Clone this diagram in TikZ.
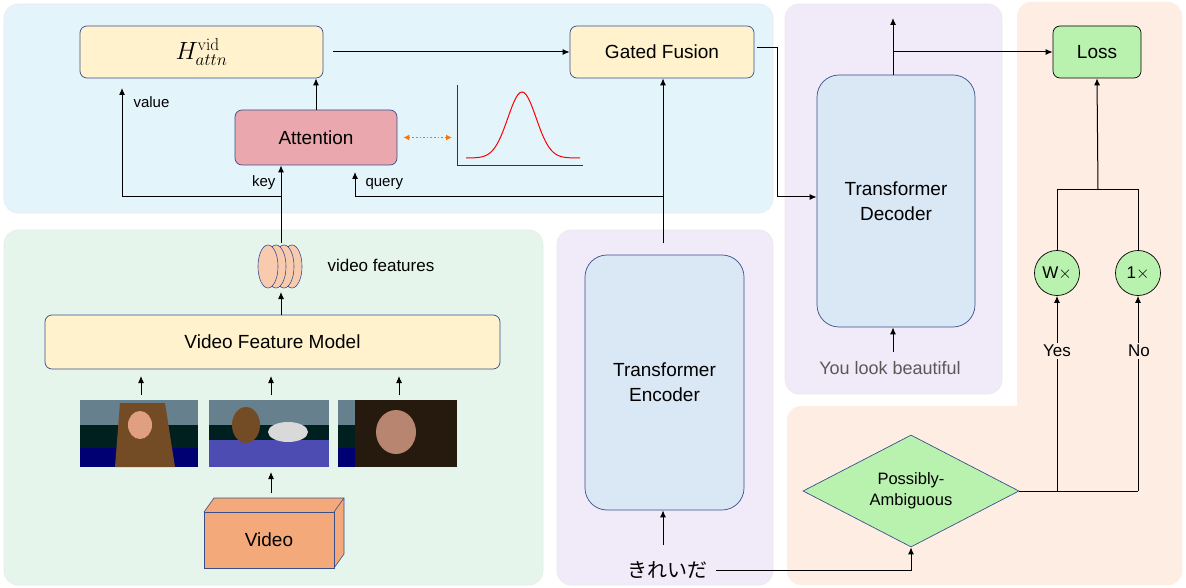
\documentclass[tikz,border=0pt]{standalone}
\usepackage[no-math]{fontspec}
\setmainfont{Liberation Sans}
\newfontfamily\cjk{Noto Sans CJK JP}
\usetikzlibrary{shapes.geometric,arrows.meta}
\definecolor{pblue}{HTML}{E3F4FB}
\definecolor{pgreen}{HTML}{E6F5EC}
\definecolor{ppurp}{HTML}{F1EAF8}
\definecolor{porange}{HTML}{FEEDE3}
\definecolor{byellow}{HTML}{FFF2CC}
\definecolor{bpink}{HTML}{EAA8AE}
\definecolor{bblue}{HTML}{DAE8F5}
\definecolor{bgreen}{HTML}{B9F2AE}
\definecolor{edge}{HTML}{3A4F8A}
\definecolor{vorange}{HTML}{F4A97A}
\begin{document}
\begin{tikzpicture}[x=1pt,y=-1pt,
  panel/.style={rounded corners=14pt,draw=black!8,line width=0.6pt},
  box/.style={draw=edge,rounded corners=7pt,line width=0.7pt,fill=byellow},
  arr/.style={-{Latex[length=7pt,width=6pt]},line width=1pt},
  ln/.style={line width=1pt},
  big/.style={font=\fontsize{19}{23}\selectfont},
  lbl/.style={font=\fontsize{15}{17}\selectfont}]
\useasboundingbox (0,0) rectangle (1186,588);
% panels
\fill[white] (0,0) rectangle (1186,588);
\draw[panel,fill=pblue] (4,4) rectangle (773,213);
\draw[panel,fill=pgreen] (4,230) rectangle (543,585);
\draw[panel,fill=ppurp] (557,230) rectangle (773,585);
\draw[panel,fill=ppurp] (785,4) rectangle (1002,394);
\fill[porange,rounded corners=14pt] (1017,2) rectangle (1182,585);
\fill[porange,rounded corners=14pt] (787,406) rectangle (1182,585);
\fill[porange] (1000,406) rectangle (1030,440);
% nodes
\node[box,minimum width=243pt,minimum height=52pt] (H) at (201.5,52) {\fontsize{25}{30}\selectfont$H^{\mathrm{vid}}_{attn}$};
\node[box,minimum width=184pt,minimum height=52pt,big] (G) at (662,52) {Gated Fusion};
\node[box,fill=bpink,minimum width=162pt,minimum height=55pt,big] (A) at (316,137.5) {Attention};
\node[box,minimum width=455pt,minimum height=54pt,big] (V) at (272.5,342) {Video Feature Model};
\node[draw=edge,fill=bblue,rounded corners=22pt,line width=0.7pt,minimum width=159pt,minimum height=255pt,align=center,font=\fontsize{19}{25}\selectfont] (E) at (664.5,382.5) {Transformer\\Encoder};
\node[draw=edge,fill=bblue,rounded corners=22pt,line width=0.7pt,minimum width=158pt,minimum height=252pt,align=center,font=\fontsize{19}{25}\selectfont] (D) at (896,201) {Transformer\\Decoder};
\node[draw=black,fill=bgreen,rounded corners=7pt,line width=0.7pt,minimum width=88pt,minimum height=52pt,big] (L) at (1097,52) {Loss};
\node[circle,draw=black,fill=bgreen,line width=0.7pt,minimum size=45pt,inner sep=0pt,font=\fontsize{17}{19}\selectfont] (W) at (1057,273) {W$\times$};
\node[circle,draw=black,fill=bgreen,line width=0.7pt,minimum size=45pt,inner sep=0pt,font=\fontsize{17}{19}\selectfont] (O) at (1138,273) {1$\times$};
\node[diamond,aspect=1.93,draw=edge,fill=bgreen,line width=0.7pt,inner sep=0pt,minimum width=216pt,minimum height=112pt,align=center,font=\fontsize{16.5}{21}\selectfont] (P) at (911,491) {Possibly-\\Ambiguous};
\node[font=\fontsize{20}{24}\selectfont\cjk,inner sep=1pt] (K) at (667,570) {きれいだ};
\node[font=\fontsize{18}{22}\selectfont,text=black!65,inner sep=1pt] (Y) at (890,368) {You look beautiful};
% video features
\foreach \dx in {24,16,8,0}{
  \draw[edge,fill=vorange!60,line width=0.6pt] (268+\dx,245) arc[start angle=90,end angle=270,x radius=10pt,y radius=21.5pt] -- (268+\dx+0.01,288) arc[start angle=-90,end angle=90,x radius=10pt,y radius=21.5pt];
}
\coordinate (VF) at (281,292);
\coordinate (VFt) at (281,243);
\node[font=\fontsize{17}{20}\selectfont,anchor=west] at (324,265) {video features};
% images
\foreach \x/\w in {80/118,209/120,338/119}{
  \fill[black!75!teal] (\x,400) rectangle (\x+\w,467);
  \fill[black!50!cyan!60!gray] (\x,400) rectangle (\x+\w,425);
  \fill[blue!45!black] (\x,448) rectangle (\x+\w,467);
}
\fill[brown!60!black] (120,403) -- (165,403) -- (175,467) -- (115,467) -- cycle;
\fill[brown!50!pink] (140,425) ellipse[x radius=12pt,y radius=14pt];
\fill[gray!60!blue] (209,440) rectangle (329,467);
\fill[gray!30] (288,432) ellipse[x radius=20pt,y radius=10pt];
\fill[brown!60!black] (246,425) ellipse[x radius=14pt,y radius=18pt];
\fill[black!80!brown] (355,400) rectangle (457,467);
\fill[brown!40!pink!80!black] (396,432) ellipse[x radius=20pt,y radius=22pt];
\coordinate (I1) at (141,395);\coordinate (I2) at (271,395);\coordinate (I3) at (399,395);
\coordinate (I2b) at (271,472);
% video cuboid
\draw[edge,fill=vorange,line width=0.6pt] (204,512) -- (214,498) -- (344,498) -- (344,554) -- (334,568) -- cycle;
\draw[edge,line width=0.6pt] (334,512) -- (344,498);
\node[draw=edge,fill=vorange,line width=0.6pt,minimum width=130pt,minimum height=56pt,inner sep=0pt,big] (Vid) at (269,540) {Video};
% curve
\draw[draw=violet,line width=0.9pt] (457,85) -- (457,165) -- (583,165);
\draw[red,line width=1pt,domain=466:580,samples=60] plot (\x,{158-66*exp(-((\x-522)/20)^2)});
\draw[{Latex[length=6pt,width=6pt]}-{Latex[length=6pt,width=6pt]},orange!90!red,dotted,line width=1.6pt] (A.east)++(6,0) -- (452,137.5);
% arrows
\draw[arr] (H.east)++(10,0) -- (G.west);
\draw[arr] (A.north) -- (H.south -| A.north);
\draw[arr] (VFt) -- (A.south -| VFt);
\node[lbl,anchor=south east] at (279,193) {key};
\draw[arr] (281,197) -| (122,88);
\node[lbl,anchor=west] at (130,102) {value};
\draw[arr] (663,243) -- (G.south -| 663,0);
\draw[arr] (663,197) -| (355,172);
\node[lbl,anchor=west] at (362,184) {query};
\draw[arr] (281,315) -- (VF);
\draw[arr] (I1) -- (141,376);
\draw[arr] (I2) -- (271,376);
\draw[arr] (I3) -- (399,376);
\draw[arr] (271,493) -- (I2b);
\draw[arr] (663,545) -- (E.south -| 663,0);
\draw[arr] (K.east)++(8,0) -| (P.south);
\draw[arr] (G.east)++(3,-4) -| (777,197) -- (D.west |- 0,197);
\draw[arr] (D.north -| 893,0) -- (893,18);
\draw[arr] (893,52) -- (L.west);
\draw[arr] (893,352) -- (D.south -| 893,0);
\draw[ln] (P.east) -- (1138,491);
\draw[arr] (1057,491) -- (W.south);
\draw[arr] (1138,491) -- (O.south);
\node[fill=porange,font=\fontsize{17}{19}\selectfont,inner sep=2pt] at (1057,351) {Yes};
\node[fill=porange,font=\fontsize{17}{19}\selectfont,inner sep=2pt] at (1139,351) {No};
\draw[ln] (W.north) -- (1057,190) -- (1138,190) -- (O.north);
\draw[arr] (1098,190) -- (L.south);
\end{tikzpicture}
\end{document}
